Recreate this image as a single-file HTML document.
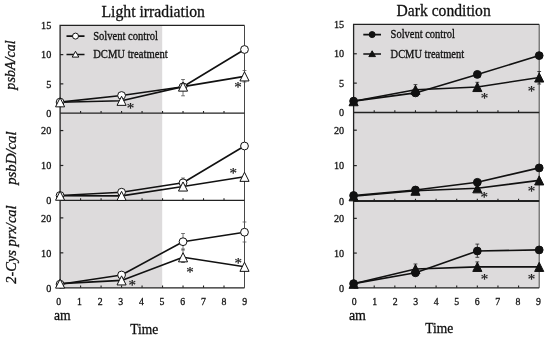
<!DOCTYPE html>
<html lang="en"><head><meta charset="utf-8"><title>Time course of psbA, psbD and 2-Cys prx expression</title>
<style>html,body{margin:0;padding:0;background:#fff}body{width:550px;height:341px;overflow:hidden}svg{display:block}</style>
</head><body>
<svg width="550" height="341" viewBox="0 0 550 341" font-family='"Liberation Serif", "DejaVu Serif", serif' fill="#111">
<rect width="550" height="341" fill="#fff"/>
<rect x="60.1" y="25.4" width="102.1" height="262.40000000000003" fill="#dddbdc"/>
<path d="M60.1 287.8V25.4H244.5" stroke="#222" stroke-width="1.3" fill="none"/>
<path d="M244.5 25.4V287.8" stroke="#333" stroke-width="0.9" fill="none"/>
<path d="M60.1 113.1H244.5" stroke="#222" stroke-width="1.3" fill="none"/>
<path d="M80.59 113.1v-2.2M101.08 113.1v-2.2M121.57 113.1v-2.2M142.06 113.1v-2.2M162.54 113.1v-2.2M183.03 113.1v-2.2M203.52 113.1v-2.2M224.01 113.1v-2.2" stroke="#222" stroke-width="1.1" fill="none"/>
<path d="M60.1 200.4H244.5" stroke="#222" stroke-width="1.3" fill="none"/>
<path d="M80.59 200.4v-2.2M101.08 200.4v-2.2M121.57 200.4v-2.2M142.06 200.4v-2.2M162.54 200.4v-2.2M183.03 200.4v-2.2M203.52 200.4v-2.2M224.01 200.4v-2.2" stroke="#222" stroke-width="1.1" fill="none"/>
<path d="M60.1 287.8H244.5" stroke="#222" stroke-width="1.3" fill="none"/>
<path d="M80.59 287.8v-2.2M101.08 287.8v-2.2M121.57 287.8v-2.2M142.06 287.8v-2.2M162.54 287.8v-2.2M183.03 287.8v-2.2M203.52 287.8v-2.2M224.01 287.8v-2.2" stroke="#222" stroke-width="1.1" fill="none"/>
<text x="51.3" y="116.80" font-size="11.2" text-anchor="end" textLength="5.1" lengthAdjust="spacingAndGlyphs" stroke="#111" stroke-width="0.3" >0</text>
<path d="M60.1 83.87h3.2" stroke="#222" stroke-width="1.2"/>
<text x="51.3" y="87.57" font-size="11.2" text-anchor="end" textLength="5.1" lengthAdjust="spacingAndGlyphs" stroke="#111" stroke-width="0.3" >5</text>
<path d="M60.1 54.63h3.2" stroke="#222" stroke-width="1.2"/>
<text x="51.3" y="58.33" font-size="11.2" text-anchor="end" textLength="10.2" lengthAdjust="spacingAndGlyphs" stroke="#111" stroke-width="0.3" >10</text>
<text x="51.3" y="29.10" font-size="11.2" text-anchor="end" textLength="10.2" lengthAdjust="spacingAndGlyphs" stroke="#111" stroke-width="0.3" >15</text>
<text x="51.3" y="204.10" font-size="11.2" text-anchor="end" textLength="5.1" lengthAdjust="spacingAndGlyphs" stroke="#111" stroke-width="0.3" >0</text>
<path d="M60.1 165.48h3.2" stroke="#222" stroke-width="1.2"/>
<text x="51.3" y="169.18" font-size="11.2" text-anchor="end" textLength="10.2" lengthAdjust="spacingAndGlyphs" stroke="#111" stroke-width="0.3" >10</text>
<path d="M60.1 130.56h3.2" stroke="#222" stroke-width="1.2"/>
<text x="51.3" y="134.26" font-size="11.2" text-anchor="end" textLength="10.2" lengthAdjust="spacingAndGlyphs" stroke="#111" stroke-width="0.3" >20</text>
<text x="51.3" y="291.50" font-size="11.2" text-anchor="end" textLength="5.1" lengthAdjust="spacingAndGlyphs" stroke="#111" stroke-width="0.3" >0</text>
<path d="M60.1 252.84h3.2" stroke="#222" stroke-width="1.2"/>
<text x="51.3" y="256.54" font-size="11.2" text-anchor="end" textLength="10.2" lengthAdjust="spacingAndGlyphs" stroke="#111" stroke-width="0.3" >10</text>
<path d="M60.1 217.88h3.2" stroke="#222" stroke-width="1.2"/>
<text x="51.3" y="221.58" font-size="11.2" text-anchor="end" textLength="10.2" lengthAdjust="spacingAndGlyphs" stroke="#111" stroke-width="0.3" >20</text>
<text x="58.80" y="304.60" font-size="11" text-anchor="middle" textLength="4.9" lengthAdjust="spacingAndGlyphs" stroke="#111" stroke-width="0.3" >0</text>
<text x="79.45" y="304.60" font-size="11" text-anchor="middle" textLength="4.9" lengthAdjust="spacingAndGlyphs" stroke="#111" stroke-width="0.3" >1</text>
<text x="100.10" y="304.60" font-size="11" text-anchor="middle" textLength="4.9" lengthAdjust="spacingAndGlyphs" stroke="#111" stroke-width="0.3" >2</text>
<text x="120.75" y="304.60" font-size="11" text-anchor="middle" textLength="4.9" lengthAdjust="spacingAndGlyphs" stroke="#111" stroke-width="0.3" >3</text>
<text x="141.40" y="304.60" font-size="11" text-anchor="middle" textLength="4.9" lengthAdjust="spacingAndGlyphs" stroke="#111" stroke-width="0.3" >4</text>
<text x="162.05" y="304.60" font-size="11" text-anchor="middle" textLength="4.9" lengthAdjust="spacingAndGlyphs" stroke="#111" stroke-width="0.3" >5</text>
<text x="182.70" y="304.60" font-size="11" text-anchor="middle" textLength="4.9" lengthAdjust="spacingAndGlyphs" stroke="#111" stroke-width="0.3" >6</text>
<text x="203.35" y="304.60" font-size="11" text-anchor="middle" textLength="4.9" lengthAdjust="spacingAndGlyphs" stroke="#111" stroke-width="0.3" >7</text>
<text x="224.00" y="304.60" font-size="11" text-anchor="middle" textLength="4.9" lengthAdjust="spacingAndGlyphs" stroke="#111" stroke-width="0.3" >8</text>
<text x="244.65" y="304.60" font-size="11" text-anchor="middle" textLength="4.9" lengthAdjust="spacingAndGlyphs" stroke="#111" stroke-width="0.3" >9</text>
<text x="101.5" y="17.3" font-size="16.5" text-anchor="start" textLength="103.5" lengthAdjust="spacingAndGlyphs" stroke="#111" stroke-width="0.3" >Light irradiation</text>
<text x="53.9" y="320.3" font-size="15" text-anchor="start" textLength="16.7" lengthAdjust="spacingAndGlyphs" stroke="#111" stroke-width="0.3" >am</text>
<text x="130.3" y="333.9" font-size="14.2" text-anchor="start" textLength="28.0" lengthAdjust="spacingAndGlyphs" stroke="#111" stroke-width="0.3" >Time</text>
<path d="M66.5 36.1H84.5M66.5 54.5H84.5" stroke="#111" stroke-width="1.6"/>
<circle cx="75.5" cy="36.1" r="3.0" fill="#fff" stroke="#111" stroke-width="1"/>
<polygon points="75.5,51.300000000000004 78.8,57.1 72.2,57.1" fill="#fff" stroke="#111" stroke-width="1" stroke-linejoin="miter"/>
<text x="93.2" y="39.5" font-size="12" text-anchor="start" textLength="64.8" lengthAdjust="spacingAndGlyphs" stroke="#111" stroke-width="0.3" >Solvent control</text>
<text x="93.2" y="57.7" font-size="12" text-anchor="start" textLength="74.5" lengthAdjust="spacingAndGlyphs" stroke="#111" stroke-width="0.3" >DCMU treatment</text>
<path d="M183.03 79.5V95.8M181.13 79.5h3.8M181.13 95.8h3.8" stroke="#555" stroke-width="0.8" fill="none"/>
<path d="M244.5 70.5V82.0M242.6 70.5h3.8M242.6 82.0h3.8" stroke="#555" stroke-width="0.8" fill="none"/>
<path d="M183.03 178.0V187.0M181.13 178.0h3.8M181.13 187.0h3.8" stroke="#555" stroke-width="0.8" fill="none"/>
<path d="M183.03 233.5V250.0M181.13 233.5h3.8M181.13 250.0h3.8" stroke="#555" stroke-width="0.8" fill="none"/>
<path d="M183.03 249.0V262.5M181.13 249.0h3.8M181.13 262.5h3.8" stroke="#555" stroke-width="0.8" fill="none"/>
<path d="M244.5 222.0V242.0M242.6 222.0h3.8M242.6 242.0h3.8" stroke="#555" stroke-width="0.8" fill="none"/>
<polyline points="60.1,102.1 121.57,95.5 183.03,86.8 244.5,49.5" fill="none" stroke="#111" stroke-width="1.6" stroke-linejoin="round"/>
<polyline points="60.1,102.3 121.57,100.8 183.03,86.6 244.5,76.4" fill="none" stroke="#111" stroke-width="1.6" stroke-linejoin="round"/>
<circle cx="60.1" cy="102.1" r="3.9" fill="#fff" stroke="#111" stroke-width="1"/>
<circle cx="121.57" cy="95.5" r="3.9" fill="#fff" stroke="#111" stroke-width="1"/>
<circle cx="183.03" cy="86.8" r="3.9" fill="#fff" stroke="#111" stroke-width="1"/>
<circle cx="244.5" cy="49.5" r="3.9" fill="#fff" stroke="#111" stroke-width="1"/>
<polygon points="60.1,97.75 64.65,106.85 55.550000000000004,106.85" fill="#fff" stroke="#111" stroke-width="1" stroke-linejoin="miter"/>
<polygon points="121.57,96.25 126.11999999999999,105.35 117.02,105.35" fill="#fff" stroke="#111" stroke-width="1" stroke-linejoin="miter"/>
<polygon points="183.03,82.05 187.58,91.14999999999999 178.48,91.14999999999999" fill="#fff" stroke="#111" stroke-width="1" stroke-linejoin="miter"/>
<polygon points="244.5,71.85000000000001 249.05,80.95 239.95,80.95" fill="#fff" stroke="#111" stroke-width="1" stroke-linejoin="miter"/>
<polyline points="60.1,195.5 121.57,192.2 183.03,182.8 244.5,146.0" fill="none" stroke="#111" stroke-width="1.6" stroke-linejoin="round"/>
<polyline points="60.1,195.7 121.57,195.9 183.03,186.5 244.5,176.8" fill="none" stroke="#111" stroke-width="1.6" stroke-linejoin="round"/>
<circle cx="60.1" cy="195.5" r="3.9" fill="#fff" stroke="#111" stroke-width="1"/>
<circle cx="121.57" cy="192.2" r="3.9" fill="#fff" stroke="#111" stroke-width="1"/>
<circle cx="183.03" cy="182.8" r="3.9" fill="#fff" stroke="#111" stroke-width="1"/>
<circle cx="244.5" cy="146.0" r="3.9" fill="#fff" stroke="#111" stroke-width="1"/>
<polygon points="60.1,191.14999999999998 64.65,200.25 55.550000000000004,200.25" fill="#fff" stroke="#111" stroke-width="1" stroke-linejoin="miter"/>
<polygon points="121.57,191.35 126.11999999999999,200.45000000000002 117.02,200.45000000000002" fill="#fff" stroke="#111" stroke-width="1" stroke-linejoin="miter"/>
<polygon points="183.03,181.95 187.58,191.05 178.48,191.05" fill="#fff" stroke="#111" stroke-width="1" stroke-linejoin="miter"/>
<polygon points="244.5,172.25 249.05,181.35000000000002 239.95,181.35000000000002" fill="#fff" stroke="#111" stroke-width="1" stroke-linejoin="miter"/>
<polyline points="60.1,284.2 121.57,275.0 183.03,241.7 244.5,232.2" fill="none" stroke="#111" stroke-width="1.6" stroke-linejoin="round"/>
<polyline points="60.1,283.6 121.57,280.4 183.03,257.3 244.5,266.8" fill="none" stroke="#111" stroke-width="1.6" stroke-linejoin="round"/>
<circle cx="60.1" cy="284.2" r="3.9" fill="#fff" stroke="#111" stroke-width="1"/>
<circle cx="121.57" cy="275.0" r="3.9" fill="#fff" stroke="#111" stroke-width="1"/>
<circle cx="183.03" cy="241.7" r="3.9" fill="#fff" stroke="#111" stroke-width="1"/>
<circle cx="244.5" cy="232.2" r="3.9" fill="#fff" stroke="#111" stroke-width="1"/>
<polygon points="60.1,279.05 64.65,288.15000000000003 55.550000000000004,288.15000000000003" fill="#fff" stroke="#111" stroke-width="1" stroke-linejoin="miter"/>
<polygon points="121.57,275.84999999999997 126.11999999999999,284.95 117.02,284.95" fill="#fff" stroke="#111" stroke-width="1" stroke-linejoin="miter"/>
<polygon points="183.03,252.75 187.58,261.85 178.48,261.85" fill="#fff" stroke="#111" stroke-width="1" stroke-linejoin="miter"/>
<polygon points="244.5,262.25 249.05,271.35 239.95,271.35" fill="#fff" stroke="#111" stroke-width="1" stroke-linejoin="miter"/>
<text x="130.5" y="112.70" font-size="15" text-anchor="middle" stroke="#111" stroke-width="0.2">*</text>
<text x="238.1" y="92.20" font-size="15" text-anchor="middle" stroke="#111" stroke-width="0.2">*</text>
<text x="233.3" y="177.80" font-size="15" text-anchor="middle" stroke="#111" stroke-width="0.2">*</text>
<text x="132.2" y="289.50" font-size="15" text-anchor="middle" stroke="#111" stroke-width="0.2">*</text>
<text x="190.0" y="277.20" font-size="15" text-anchor="middle" stroke="#111" stroke-width="0.2">*</text>
<text x="238.3" y="267.70" font-size="15" text-anchor="middle" stroke="#111" stroke-width="0.2">*</text>
<text transform="translate(15.4 65.0) rotate(-90)" font-size="14.3" font-style="italic" text-anchor="middle" stroke="#111" stroke-width="0.3" textLength="49.3" lengthAdjust="spacingAndGlyphs">psbA/cal</text>
<text transform="translate(16.1 158.1) rotate(-90)" font-size="14.3" font-style="italic" text-anchor="middle" stroke="#111" stroke-width="0.3" textLength="53.5" lengthAdjust="spacingAndGlyphs">psbD/cal</text>
<text transform="translate(16.3 244.6) rotate(-90)" font-size="14.3" font-style="italic" text-anchor="middle" stroke="#111" stroke-width="0.3" textLength="78.3" lengthAdjust="spacingAndGlyphs">2-Cys prx/cal</text>
<rect x="353.6" y="24.4" width="185.60000000000002" height="263.40000000000003" fill="#dddbdc"/>
<path d="M353.6 287.8V24.4H539.2" stroke="#222" stroke-width="1.3" fill="none"/>
<path d="M539.2 24.4V287.8" stroke="#333" stroke-width="0.9" fill="none"/>
<path d="M353.6 112.5H539.2" stroke="#222" stroke-width="1.3" fill="none"/>
<path d="M374.22 112.5v-2.2M394.84 112.5v-2.2M415.47 112.5v-2.2M436.09 112.5v-2.2M456.71 112.5v-2.2M477.33 112.5v-2.2M497.96 112.5v-2.2M518.58 112.5v-2.2" stroke="#222" stroke-width="1.1" fill="none"/>
<path d="M353.6 201.0H539.2" stroke="#222" stroke-width="2" fill="none"/>
<path d="M374.22 201.0v-2.2M394.84 201.0v-2.2M415.47 201.0v-2.2M436.09 201.0v-2.2M456.71 201.0v-2.2M477.33 201.0v-2.2M497.96 201.0v-2.2M518.58 201.0v-2.2" stroke="#222" stroke-width="1.1" fill="none"/>
<path d="M353.6 287.8H539.2" stroke="#222" stroke-width="1.3" fill="none"/>
<path d="M374.22 287.8v-2.2M394.84 287.8v-2.2M415.47 287.8v-2.2M436.09 287.8v-2.2M456.71 287.8v-2.2M477.33 287.8v-2.2M497.96 287.8v-2.2M518.58 287.8v-2.2" stroke="#222" stroke-width="1.1" fill="none"/>
<text x="344.2" y="116.20" font-size="11.2" text-anchor="end" textLength="5.1" lengthAdjust="spacingAndGlyphs" stroke="#111" stroke-width="0.3" >0</text>
<path d="M353.6 83.13h3.2" stroke="#222" stroke-width="1.2"/>
<text x="344.2" y="86.83" font-size="11.2" text-anchor="end" textLength="5.1" lengthAdjust="spacingAndGlyphs" stroke="#111" stroke-width="0.3" >5</text>
<path d="M353.6 53.77h3.2" stroke="#222" stroke-width="1.2"/>
<text x="344.2" y="57.47" font-size="11.2" text-anchor="end" textLength="10.2" lengthAdjust="spacingAndGlyphs" stroke="#111" stroke-width="0.3" >10</text>
<text x="344.2" y="28.10" font-size="11.2" text-anchor="end" textLength="10.2" lengthAdjust="spacingAndGlyphs" stroke="#111" stroke-width="0.3" >15</text>
<text x="344.2" y="204.70" font-size="11.2" text-anchor="end" textLength="5.1" lengthAdjust="spacingAndGlyphs" stroke="#111" stroke-width="0.3" >0</text>
<path d="M353.6 165.60h3.2" stroke="#222" stroke-width="1.2"/>
<text x="344.2" y="169.30" font-size="11.2" text-anchor="end" textLength="10.2" lengthAdjust="spacingAndGlyphs" stroke="#111" stroke-width="0.3" >10</text>
<path d="M353.6 130.20h3.2" stroke="#222" stroke-width="1.2"/>
<text x="344.2" y="133.90" font-size="11.2" text-anchor="end" textLength="10.2" lengthAdjust="spacingAndGlyphs" stroke="#111" stroke-width="0.3" >20</text>
<text x="344.2" y="291.50" font-size="11.2" text-anchor="end" textLength="5.1" lengthAdjust="spacingAndGlyphs" stroke="#111" stroke-width="0.3" >0</text>
<path d="M353.6 253.08h3.2" stroke="#222" stroke-width="1.2"/>
<text x="344.2" y="256.78" font-size="11.2" text-anchor="end" textLength="10.2" lengthAdjust="spacingAndGlyphs" stroke="#111" stroke-width="0.3" >10</text>
<path d="M353.6 218.36h3.2" stroke="#222" stroke-width="1.2"/>
<text x="344.2" y="222.06" font-size="11.2" text-anchor="end" textLength="10.2" lengthAdjust="spacingAndGlyphs" stroke="#111" stroke-width="0.3" >20</text>
<text x="354.30" y="304.60" font-size="11" text-anchor="middle" textLength="4.9" lengthAdjust="spacingAndGlyphs" stroke="#111" stroke-width="0.3" >0</text>
<text x="374.77" y="304.60" font-size="11" text-anchor="middle" textLength="4.9" lengthAdjust="spacingAndGlyphs" stroke="#111" stroke-width="0.3" >1</text>
<text x="395.24" y="304.60" font-size="11" text-anchor="middle" textLength="4.9" lengthAdjust="spacingAndGlyphs" stroke="#111" stroke-width="0.3" >2</text>
<text x="415.71" y="304.60" font-size="11" text-anchor="middle" textLength="4.9" lengthAdjust="spacingAndGlyphs" stroke="#111" stroke-width="0.3" >3</text>
<text x="436.18" y="304.60" font-size="11" text-anchor="middle" textLength="4.9" lengthAdjust="spacingAndGlyphs" stroke="#111" stroke-width="0.3" >4</text>
<text x="456.65" y="304.60" font-size="11" text-anchor="middle" textLength="4.9" lengthAdjust="spacingAndGlyphs" stroke="#111" stroke-width="0.3" >5</text>
<text x="477.12" y="304.60" font-size="11" text-anchor="middle" textLength="4.9" lengthAdjust="spacingAndGlyphs" stroke="#111" stroke-width="0.3" >6</text>
<text x="497.59" y="304.60" font-size="11" text-anchor="middle" textLength="4.9" lengthAdjust="spacingAndGlyphs" stroke="#111" stroke-width="0.3" >7</text>
<text x="518.06" y="304.60" font-size="11" text-anchor="middle" textLength="4.9" lengthAdjust="spacingAndGlyphs" stroke="#111" stroke-width="0.3" >8</text>
<text x="538.53" y="304.60" font-size="11" text-anchor="middle" textLength="4.9" lengthAdjust="spacingAndGlyphs" stroke="#111" stroke-width="0.3" >9</text>
<text x="396.5" y="15.8" font-size="16.5" text-anchor="start" textLength="94.2" lengthAdjust="spacingAndGlyphs" stroke="#111" stroke-width="0.3" >Dark condition</text>
<text x="348.9" y="319.7" font-size="15" text-anchor="start" textLength="17.1" lengthAdjust="spacingAndGlyphs" stroke="#111" stroke-width="0.3" >am</text>
<text x="425.3" y="333.2" font-size="14.2" text-anchor="start" textLength="28.0" lengthAdjust="spacingAndGlyphs" stroke="#111" stroke-width="0.3" >Time</text>
<path d="M363.3 34.6H381.0M363.3 54.0H381.0" stroke="#111" stroke-width="1.6"/>
<circle cx="372.15" cy="34.6" r="3.0" fill="#111" stroke="#111" stroke-width="1"/>
<polygon points="372.15,50.800000000000004 375.45,56.6 368.84999999999997,56.6" fill="#111" stroke="#111" stroke-width="1" stroke-linejoin="miter"/>
<text x="390.6" y="38.3" font-size="12" text-anchor="start" textLength="64.3" lengthAdjust="spacingAndGlyphs" stroke="#111" stroke-width="0.3" >Solvent control</text>
<text x="390.6" y="57.9" font-size="12" text-anchor="start" textLength="73.5" lengthAdjust="spacingAndGlyphs" stroke="#111" stroke-width="0.3" >DCMU treatment</text>
<path d="M477.33 244.1V257.3M475.43 244.1h3.8M475.43 257.3h3.8" stroke="#1a1a1a" stroke-width="0.8" fill="none"/>
<path d="M477.33 261.9V268.0M475.43 261.9h3.8M475.43 268.0h3.8" stroke="#1a1a1a" stroke-width="0.8" fill="none"/>
<path d="M415.47 84.6V95.0M413.57000000000005 84.6h3.8M413.57000000000005 95.0h3.8" stroke="#1a1a1a" stroke-width="0.8" fill="none"/>
<path d="M477.33 82.3V91.0M475.43 82.3h3.8M475.43 91.0h3.8" stroke="#1a1a1a" stroke-width="0.8" fill="none"/>
<path d="M539.2 71.5V84.0M537.3000000000001 71.5h3.8M537.3000000000001 84.0h3.8" stroke="#1a1a1a" stroke-width="0.8" fill="none"/>
<path d="M415.47 264.0V272.0M413.57000000000005 264.0h3.8M413.57000000000005 272.0h3.8" stroke="#1a1a1a" stroke-width="0.8" fill="none"/>
<polyline points="353.6,101.1 415.47,92.9 477.33,74.4 539.2,55.6" fill="none" stroke="#111" stroke-width="1.6" stroke-linejoin="round"/>
<polyline points="353.6,101.2 415.47,89.8 477.33,87.0 539.2,77.5" fill="none" stroke="#111" stroke-width="1.6" stroke-linejoin="round"/>
<circle cx="353.6" cy="101.1" r="3.9" fill="#111" stroke="#111" stroke-width="1"/>
<circle cx="415.47" cy="92.9" r="3.9" fill="#111" stroke="#111" stroke-width="1"/>
<circle cx="477.33" cy="74.4" r="3.9" fill="#111" stroke="#111" stroke-width="1"/>
<circle cx="539.2" cy="55.6" r="3.9" fill="#111" stroke="#111" stroke-width="1"/>
<polygon points="353.6,96.65 358.15000000000003,105.75 349.05,105.75" fill="#111" stroke="#111" stroke-width="1" stroke-linejoin="miter"/>
<polygon points="415.47,85.25 420.02000000000004,94.35 410.92,94.35" fill="#111" stroke="#111" stroke-width="1" stroke-linejoin="miter"/>
<polygon points="477.33,82.45 481.88,91.55 472.78,91.55" fill="#111" stroke="#111" stroke-width="1" stroke-linejoin="miter"/>
<polygon points="539.2,72.95 543.75,82.05 534.6500000000001,82.05" fill="#111" stroke="#111" stroke-width="1" stroke-linejoin="miter"/>
<polyline points="353.6,195.5 415.47,190.0 477.33,182.3 539.2,167.9" fill="none" stroke="#111" stroke-width="1.6" stroke-linejoin="round"/>
<polyline points="353.6,196.3 415.47,190.7 477.33,188.3 539.2,180.4" fill="none" stroke="#111" stroke-width="1.6" stroke-linejoin="round"/>
<circle cx="353.6" cy="195.5" r="3.9" fill="#111" stroke="#111" stroke-width="1"/>
<circle cx="415.47" cy="190.0" r="3.9" fill="#111" stroke="#111" stroke-width="1"/>
<circle cx="477.33" cy="182.3" r="3.9" fill="#111" stroke="#111" stroke-width="1"/>
<circle cx="539.2" cy="167.9" r="3.9" fill="#111" stroke="#111" stroke-width="1"/>
<polygon points="353.6,191.75 358.15000000000003,200.85000000000002 349.05,200.85000000000002" fill="#111" stroke="#111" stroke-width="1" stroke-linejoin="miter"/>
<polygon points="415.47,186.14999999999998 420.02000000000004,195.25 410.92,195.25" fill="#111" stroke="#111" stroke-width="1" stroke-linejoin="miter"/>
<polygon points="477.33,183.75 481.88,192.85000000000002 472.78,192.85000000000002" fill="#111" stroke="#111" stroke-width="1" stroke-linejoin="miter"/>
<polygon points="539.2,175.85 543.75,184.95000000000002 534.6500000000001,184.95000000000002" fill="#111" stroke="#111" stroke-width="1" stroke-linejoin="miter"/>
<polyline points="353.6,283.6 415.47,272.8 477.33,251.0 539.2,249.9" fill="none" stroke="#111" stroke-width="1.6" stroke-linejoin="round"/>
<polyline points="353.6,283.8 415.47,269.0 477.33,266.9 539.2,266.9" fill="none" stroke="#111" stroke-width="1.6" stroke-linejoin="round"/>
<circle cx="353.6" cy="283.6" r="3.9" fill="#111" stroke="#111" stroke-width="1"/>
<circle cx="415.47" cy="272.8" r="3.9" fill="#111" stroke="#111" stroke-width="1"/>
<circle cx="477.33" cy="251.0" r="3.9" fill="#111" stroke="#111" stroke-width="1"/>
<circle cx="539.2" cy="249.9" r="3.9" fill="#111" stroke="#111" stroke-width="1"/>
<polygon points="353.6,279.25 358.15000000000003,288.35 349.05,288.35" fill="#111" stroke="#111" stroke-width="1" stroke-linejoin="miter"/>
<polygon points="415.47,264.45 420.02000000000004,273.55 410.92,273.55" fill="#111" stroke="#111" stroke-width="1" stroke-linejoin="miter"/>
<polygon points="477.33,262.34999999999997 481.88,271.45 472.78,271.45" fill="#111" stroke="#111" stroke-width="1" stroke-linejoin="miter"/>
<polygon points="539.2,262.34999999999997 543.75,271.45 534.6500000000001,271.45" fill="#111" stroke="#111" stroke-width="1" stroke-linejoin="miter"/>
<text x="484.4" y="103.30" font-size="15" text-anchor="middle" stroke="#111" stroke-width="0.2">*</text>
<text x="531.6" y="95.70" font-size="15" text-anchor="middle" stroke="#111" stroke-width="0.2">*</text>
<text x="484.3" y="202.10" font-size="15" text-anchor="middle" stroke="#111" stroke-width="0.2">*</text>
<text x="531.4" y="196.10" font-size="15" text-anchor="middle" stroke="#111" stroke-width="0.2">*</text>
<text x="484.5" y="284.00" font-size="15" text-anchor="middle" stroke="#111" stroke-width="0.2">*</text>
<text x="531.4" y="284.00" font-size="15" text-anchor="middle" stroke="#111" stroke-width="0.2">*</text>
</svg>
</body></html>
